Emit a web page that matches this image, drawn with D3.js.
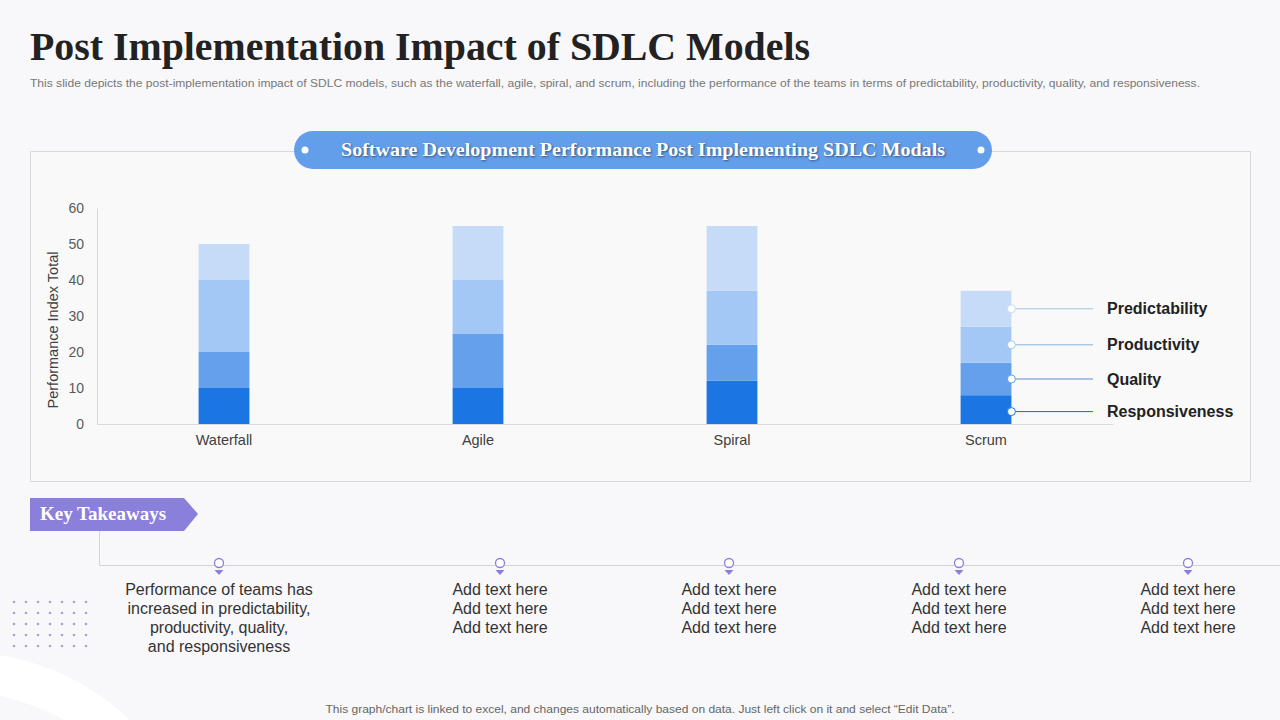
<!DOCTYPE html>
<html>
<head>
<meta charset="utf-8">
<script src="https://cdn.jsdelivr.net/npm/d3@7"></script>
<style>
  html, body { margin: 0; padding: 0; background: #f8f8fa; }
  svg { display: block; }
</style>
</head>
<body>
<div id="chart"></div>
<script>
// Chart data
const models = ['Waterfall', 'Agile', 'Spiral', 'Scrum'];
const metrics = ['Responsiveness', 'Quality', 'Productivity', 'Predictability'];
const responsiveness = [10, 10, 12, 8];
const quality = [10, 15, 10, 9];
const productivity = [20, 15, 15, 10];
const predictability = [10, 15, 18, 10];
const yTicks = [0, 10, 20, 30, 40, 50, 60];
const metricColors = ['#1b76e3', '#64a0ec', '#a4c8f5', '#c5dbf7'];

const takeaways = [
    ['Performance of teams has', 'increased in predictability,', 'productivity, quality,', 'and responsiveness'],
    ['Add text here', 'Add text here', 'Add text here'],
    ['Add text here', 'Add text here', 'Add text here'],
    ['Add text here', 'Add text here', 'Add text here'],
    ['Add text here', 'Add text here', 'Add text here']
];

const width = 1280, height = 720;
const serif = '"Liberation Serif", "DejaVu Serif", serif';
const sans = '"Liberation Sans", Arial, sans-serif';
const purple = '#8b7fdc';

const svg = d3.select('#chart').append('svg')
    .attr('width', width)
    .attr('height', height)
    .attr('viewBox', `0 0 ${width} ${height}`);

svg.append('rect').attr('width', width).attr('height', height).attr('fill', '#f8f8fa');

// Decorative white ring bottom-left
svg.append('circle')
    .attr('cx', -40).attr('cy', 898).attr('r', 226)
    .attr('fill', 'none').attr('stroke', '#ffffff').attr('stroke-width', 40);

// Dot grid
const dotCols = d3.range(7), dotRows = d3.range(5);
svg.append('g').selectAll('circle')
    .data(d3.cross(dotCols, dotRows))
    .join('circle')
    .attr('cx', d => 14 + d[0] * 12)
    .attr('cy', d => 602 + d[1] * 11)
    .attr('r', 1.3)
    .attr('fill', '#a7a2d6');

// Title and subtitle
svg.append('text')
    .attr('x', 30).attr('y', 60)
    .attr('textLength', 780).attr('lengthAdjust', 'spacingAndGlyphs')
    .style('font-family', serif).style('font-weight', 'bold').style('font-size', '39px')
    .style('fill', '#222')
    .text('Post Implementation Impact of SDLC Models');

svg.append('text')
    .attr('x', 30).attr('y', 87)
    .attr('textLength', 1170).attr('lengthAdjust', 'spacingAndGlyphs')
    .style('font-family', sans).style('font-size', '11px').style('fill', '#777')
    .text('This slide depicts the post-implementation impact of SDLC models, such as the waterfall, agile, spiral, and scrum, including the performance of the teams in terms of predictability, productivity, quality, and responsiveness.');

// Chart frame
svg.append('rect')
    .attr('x', 30.5).attr('y', 151.5).attr('width', 1220).attr('height', 330)
    .attr('fill', '#f9f9f9').attr('stroke', '#d9d9d9');

// Header pill
const pill = svg.append('g');
pill.append('rect')
    .attr('x', 294).attr('y', 131).attr('width', 698).attr('height', 38).attr('rx', 19)
    .attr('fill', '#629ee9');
pill.selectAll('circle').data([305, 981]).join('circle')
    .attr('cx', d => d).attr('cy', 150).attr('r', 3.5).attr('fill', '#fff');
pill.append('text')
    .attr('x', 643).attr('y', 156).attr('text-anchor', 'middle')
    .attr('textLength', 604).attr('lengthAdjust', 'spacingAndGlyphs')
    .style('font-family', serif).style('font-weight', 'bold').style('font-size', '19px')
    .style('fill', '#fff').style('text-shadow', '1px 1px 2px rgba(0,0,0,0.45)')
    .text('Software Development Performance Post Implementing SDLC Modals');

// Scales
const x = d3.scaleBand().domain(models).range([97, 1113]).paddingInner(0.8).paddingOuter(0.4);
const y = d3.scaleLinear().domain([0, 60]).range([424, 208]);

const table = models.map((m, i) => ({
    model: m,
    Responsiveness: responsiveness[i],
    Quality: quality[i],
    Productivity: productivity[i],
    Predictability: predictability[i]
}));
const series = d3.stack().keys(metrics)(table);
const color = d3.scaleOrdinal().domain(metrics).range(metricColors);

// Axes
const yAxis = svg.append('g')
    .attr('transform', 'translate(97,0)')
    .call(d3.axisLeft(y).tickValues(yTicks).tickSize(0).tickPadding(13));
yAxis.select('.domain').attr('stroke', '#d9d9d9');
yAxis.selectAll('text').style('font-family', sans).style('font-size', '14px').style('fill', '#595959');

const xAxis = svg.append('g')
    .attr('transform', 'translate(0,424)')
    .call(d3.axisBottom(x).tickSize(0).tickPadding(11).tickSizeOuter(0));
xAxis.select('.domain').attr('stroke', '#d9d9d9');
xAxis.selectAll('text').style('font-family', sans).style('font-size', '14.5px').style('fill', '#404040');

svg.append('text')
    .attr('transform', 'translate(58,330) rotate(-90)')
    .attr('text-anchor', 'middle')
    .style('font-family', sans).style('font-size', '14.5px').style('fill', '#404040')
    .text('Performance Index Total');

// Stacked bars
svg.append('g').selectAll('g')
    .data(series)
    .join('g')
    .attr('fill', d => color(d.key))
    .selectAll('rect')
    .data(d => d)
    .join('rect')
    .attr('x', d => x(d.data.model))
    .attr('y', d => y(d[1]))
    .attr('width', x.bandwidth())
    .attr('height', d => y(d[0]) - y(d[1]));

// Legend leaders off the last bar
const lastIdx = models.length - 1;
const lastModel = models[lastIdx];
const legendX0 = x(lastModel) + x.bandwidth();
const legend = svg.append('g').selectAll('g')
    .data(series)
    .join('g')
    .attr('transform', d => `translate(0,${y((d[lastIdx][0] + d[lastIdx][1]) / 2) + (d.key === 'Responsiveness' ? 2 : 0)})`);

legend.append('line')
    .attr('x1', legendX0).attr('x2', 1093)
    .attr('stroke', d => d3.color(color(d.key)).darker(0.35))
    .attr('stroke-width', 1);
legend.append('circle')
    .attr('cx', legendX0).attr('r', 4)
    .attr('fill', '#fff').attr('stroke', d => color(d.key)).attr('stroke-width', 1);
legend.append('text')
    .attr('x', 1107).attr('dy', '0.35em')
    .style('font-family', sans).style('font-weight', 'bold').style('font-size', '16px')
    .style('fill', '#222')
    .text(d => d.key);

// Key Takeaways banner
svg.append('path')
    .attr('d', 'M30,498 H184 L198,514 L184,531 H30 Z')
    .attr('fill', purple);
svg.append('text')
    .attr('x', 40).attr('y', 520)
    .style('font-family', serif).style('font-weight', 'bold').style('font-size', '19px')
    .style('fill', '#fff')
    .text('Key Takeaways');

svg.append('path')
    .attr('d', 'M99.5,531 V565.5 H1280')
    .attr('fill', 'none').attr('stroke', '#d4d4d8');

// Takeaway items
const itemX = [219, 500, 729, 959, 1188];
const items = svg.append('g').selectAll('g')
    .data(takeaways)
    .join('g')
    .attr('transform', (d, i) => `translate(${itemX[i]},0)`);

items.append('circle')
    .attr('cy', 563).attr('r', 4.5)
    .attr('fill', '#fff').attr('stroke', purple).attr('stroke-width', 1.3);
items.append('path')
    .attr('d', 'M-4.5,570 L4.5,570 L0,575 Z')
    .attr('fill', purple);
items.append('text')
    .attr('text-anchor', 'middle')
    .style('font-family', sans).style('font-size', '16px').style('fill', '#333')
    .selectAll('tspan')
    .data(d => d)
    .join('tspan')
    .attr('x', 0)
    .attr('y', (d, i) => 595 + i * 19)
    .text(d => d);

// Footer note
svg.append('text')
    .attr('x', 640).attr('y', 713).attr('text-anchor', 'middle')
    .attr('textLength', 629).attr('lengthAdjust', 'spacingAndGlyphs')
    .style('font-family', sans).style('font-size', '11.5px').style('fill', '#666')
    .text('This graph/chart is linked to excel, and changes automatically based on data. Just left click on it and select \u201cEdit Data\u201d.');
</script>
</body>
</html>
